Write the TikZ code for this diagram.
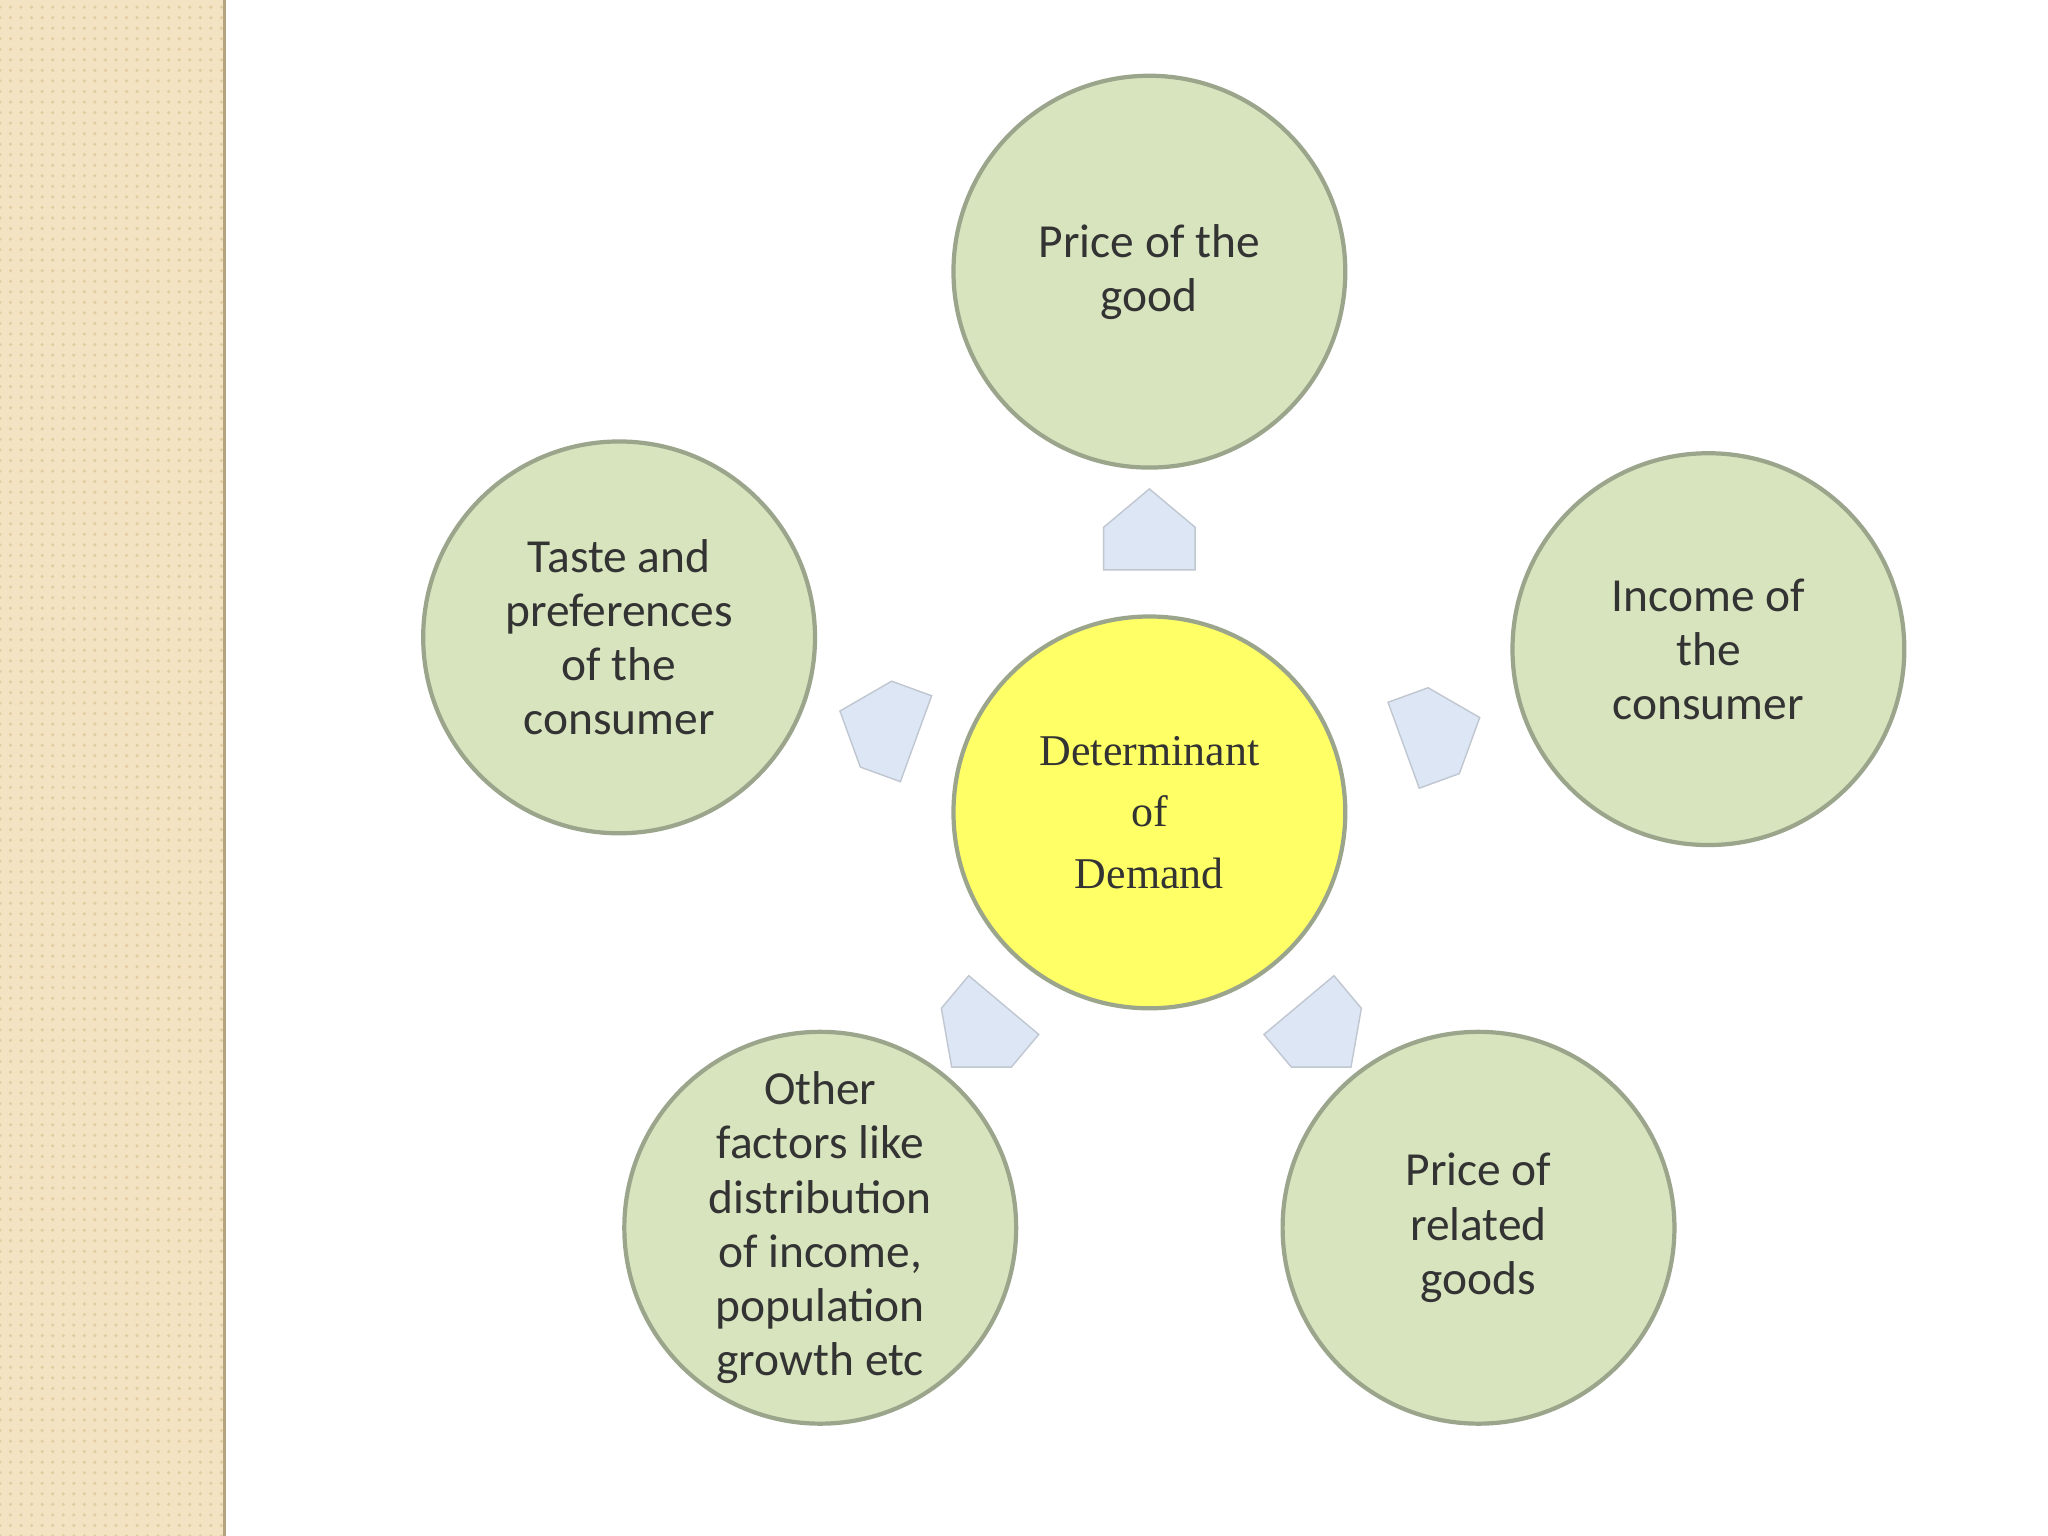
\documentclass[tikz,border=0pt]{standalone}
\usepackage{fontspec}
\setmainfont{Liberation Serif}
\newfontfamily\carlitofont{Carlito}
\usetikzlibrary{shapes.arrows,patterns}
\definecolor{strip}{HTML}{F3E3C3}
\definecolor{stripdot}{HTML}{E2CCA0}
\definecolor{gfill}{HTML}{D7E4BD}
\definecolor{gline}{HTML}{9BA58C}
\definecolor{yfill}{HTML}{FFFF66}
\definecolor{afill}{HTML}{DCE6F4}
\begin{document}
\begin{tikzpicture}[x=0.01306cm,y=-0.01306cm,
  fac/.style={circle,draw=gline,line width=1.2pt,fill=gfill,minimum size=300*0.01306cm,inner sep=0pt,align=center,font=\carlitofont\fontsize{13.5}{15.4}\selectfont,text=black!80},
  ctr/.style={fac,fill=yfill,font=\rmfamily\fontsize{12.5}{17.5}\selectfont},
  arr/.style={single arrow,draw=afill!70!gray,fill=afill,minimum height=62*0.01306cm,minimum width=70*0.01306cm,single arrow head extend=0pt,single arrow tip angle=100,inner sep=0pt}]
\useasboundingbox (0,0) rectangle (1568,1176);
\fill[white] (0,0) rectangle (1568,1176);
\fill[strip] (0,0) rectangle (172,1176);
\fill[pattern=dots,pattern color=stripdot] (0,0) rectangle (172,1176);
\draw[stripdot!80!black,line width=1pt] (172,0) -- (172,1176);
\node[fac] (p) at (880,208) {Price of the\\good};
\node[fac] (t) at (474,488) {Taste and\\preferences\\of the\\consumer};
\node[fac] (i) at (1308,497) {Income of\\the\\consumer};
\node[ctr] (c) at (880,622) {Determinant\\of\\Demand};
\node[fac] (o) at (628,940) {Other\\factors like\\distribution\\of income,\\population\\growth etc};
\node[fac] (r) at (1132,940) {Price of\\related\\goods};
\node[arr,rotate=90] (a1) at (880,420) {};
\node[arr,rotate=160] (a2) at (686,560) {};
\node[arr,rotate=20] (a3) at (1090,565) {};
\node[arr,rotate=230] (a4) at (758,782) {};
\node[arr,rotate=-50] (a5) at (1005,782) {};
\end{tikzpicture}
\end{document}
